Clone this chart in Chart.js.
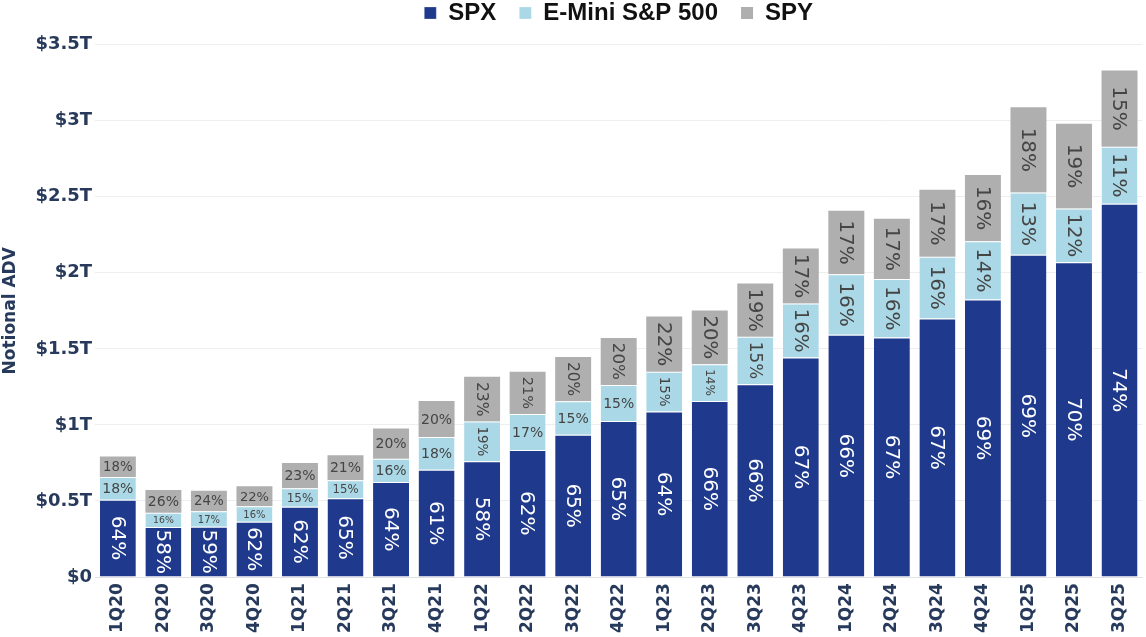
<!DOCTYPE html>
<html>
<head>
<meta charset="utf-8">
<script src="https://cdn.jsdelivr.net/npm/chart.js@4.4.1/dist/chart.umd.min.js"></script>
<style>
  html, body { margin: 0; padding: 0; background: #fff; }
  #wrap { width: 1146px; height: 637px; position: relative; }
</style>
</head>
<body>
<div id="wrap"><canvas id="c"></canvas></div>
<script>
const categories = ['1Q20','2Q20','3Q20','4Q20','1Q21','2Q21','3Q21','4Q21','1Q22','2Q22','3Q22','4Q22','1Q23','2Q23','3Q23','4Q23','1Q24','2Q24','3Q24','4Q24','1Q25','2Q25','3Q25'];
// Notional ADV, trillions of dollars
const spx   = [0.509,0.329,0.331,0.364,0.463,0.518,0.625,0.706,0.761,0.836,0.936,1.026,1.088,1.158,1.268,1.443,1.592,1.574,1.700,1.824,2.118,2.070,2.454];
const emini = [0.149,0.094,0.101,0.101,0.121,0.118,0.153,0.215,0.261,0.236,0.220,0.237,0.261,0.241,0.311,0.355,0.399,0.386,0.405,0.384,0.410,0.353,0.375];
const spy   = [0.134,0.149,0.136,0.132,0.166,0.164,0.198,0.237,0.294,0.278,0.291,0.309,0.364,0.353,0.351,0.362,0.417,0.395,0.441,0.435,0.560,0.557,0.501];
// Share labels (%)
const spxPct   = [64,58,59,62,62,65,64,61,58,62,65,65,64,66,66,67,66,67,67,69,69,70,74];
const eminiPct = [18,16,17,16,15,15,16,18,19,17,15,15,15,14,15,16,16,16,16,14,13,12,11];
const spyPct   = [18,26,24,22,23,21,20,20,23,21,20,20,22,20,19,17,17,17,17,16,18,19,15];
const yTicks = [0,0.5,1,1.5,2,2.5,3,3.5];

const NAVY = '#283a5b';
const labelFont = '"DejaVu Sans", Verdana, sans-serif';

const pctLabels = {
  id: 'pctLabels',
  afterDatasetsDraw(chart) {
    const ctx = chart.ctx;
    const pcts = [spxPct, eminiPct, spyPct];
    chart.data.datasets.forEach((ds, i) => {
      const meta = chart.getDatasetMeta(i);
      meta.data.forEach((bar, j) => {
        const p = bar.getProps(['x','y','base','width'], true);
        const top = Math.min(p.y, p.base), bot = Math.max(p.y, p.base);
        const h = bot - top;
        const cx = p.x, cy = (top + bot) / 2;
        const txt = pcts[i][j] + '%';
        ctx.save();
        ctx.textAlign = 'center';
        ctx.textBaseline = 'middle';
        ctx.fillStyle = i === 0 ? '#ffffff' : '#454545';
        let rotated, size;
        if (i === 0) { rotated = true; size = 20; }
        else if (h > 36.3) { rotated = true; size = Math.min(20, (h - 10) / 2.22); }
        else { rotated = false; size = Math.min(14, h * 0.65, (p.width - 4) / 2.22); }
        ctx.font = size.toFixed(1) + 'px ' + labelFont;
        ctx.translate(cx, cy);
        if (rotated) ctx.rotate(Math.PI / 2);
        ctx.fillText(txt, 0, 1);
        ctx.restore();
      });
    });
  }
};

new Chart(document.getElementById('c'), {
  type: 'bar',
  data: {
    labels: categories,
    datasets: [
      { label: 'SPX', data: spx, backgroundColor: '#1f3a8c', borderColor: '#ffffff', borderWidth: {top: 1, left: 0, right: 0, bottom: 0}, borderSkipped: false },
      { label: 'E-Mini S&P 500', data: emini, backgroundColor: '#aad8e6', borderColor: '#ffffff', borderWidth: {top: 1, left: 0, right: 0, bottom: 0}, borderSkipped: false },
      { label: 'SPY', data: spy, backgroundColor: '#afafaf', borderColor: '#ffffff', borderWidth: 0 }
    ]
  },
  options: {
    responsive: true,
    maintainAspectRatio: false,
    animation: false,
    layout: { padding: { left: 0, right: 0, top: -22, bottom: -2 } },
    datasets: { bar: { categoryPercentage: 1, barPercentage: 0.79 } },
    plugins: {
      legend: {
        position: 'top',
        align: 'center',
        fullSize: false,
        labels: {
          boxWidth: 12, boxHeight: 12, padding: 23,
          color: '#111111',
          font: { family: '"Liberation Sans", Arial, sans-serif', size: 24, weight: 'bold' }
        }
      },
      subtitle: {
        display: true, text: '', position: 'top', weight: 500,
        padding: 0, font: { size: 8 }
      },
      tooltip: { enabled: false }
    },
    scales: {
      x: {
        stacked: true,
        grid: { display: false, drawTicks: false },
        border: { display: true, color: '#e2e2e2' },
        ticks: {
          minRotation: 90, maxRotation: 90, padding: 6, autoSkip: false,
          color: NAVY,
          font: { family: labelFont, size: 17, weight: 'bold' }
        }
      },
      y: {
        stacked: true,
        min: 0, max: 3.5,
        afterBuildTicks(axis) { axis.ticks = yTicks.map(v => ({ value: v })); },
        grid: { color: '#eeeeee', drawTicks: false },
        border: { display: false },
        ticks: {
          padding: 3,
          color: NAVY,
          font: { family: labelFont, size: 18, weight: 'bold' },
          callback: (v) => v === 0 ? '$0' : '$' + v + 'T'
        },
        title: {
          display: true, text: 'Notional ADV', color: NAVY,
          padding: { top: 0, bottom: 12 },
          font: { family: labelFont, size: 17, weight: 'bold' }
        }
      }
    }
  },
  plugins: [pctLabels]
});
</script>
</body>
</html>
